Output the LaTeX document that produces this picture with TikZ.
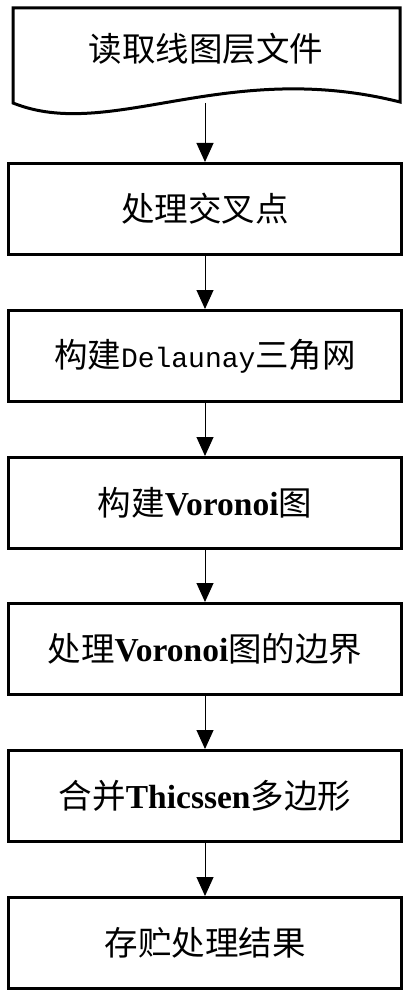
\documentclass[tikz,border=0pt]{standalone}
\usepackage{fontspec}
\newfontfamily\cjk{Noto Sans CJK SC}
\newfontfamily\monofam{Liberation Mono}
\newfontfamily\serifbold[BoldFont={Liberation Serif Bold}]{Liberation Serif}
\usetikzlibrary{arrows.meta}
\begin{document}
\begin{tikzpicture}[x=1pt,y=-1pt,
  procbox/.style={draw=black,line width=3pt,rectangle,minimum width=393pt,minimum height=91pt,inner sep=0pt,font=\cjk\fontsize{33.5}{36}\selectfont},
  lbl/.style={font=\cjk\fontsize{33.5}{36}\selectfont,inner sep=0pt},
  arr/.style={draw=black,line width=1pt,-{Triangle[width=17pt,length=19pt]}}]
\newcommand{\dlt}[1]{{\monofam\fontsize{28}{36}\selectfont #1}}
\newcommand{\tbf}[1]{{\serifbold\bfseries\fontsize{33.5}{36}\selectfont #1}}
\fill[white] (0,0) rectangle (412,1000);
\useasboundingbox (0,0) rectangle (412,1000);
% document shape
\draw[line width=3pt,line join=miter] (13,8) -- (400,8) -- (400,102)
  .. controls (225,58) and (110,142) .. (13,103) -- cycle;
\node[lbl] (doc) at (206,49) {读取线图层文件};
\coordinate (docb) at (205,103);
\node[procbox] (b1) at (205,209) {处理交叉点};
\node[procbox] (b2) at (205,356) {构建\dlt{Delaunay}三角网};
\node[procbox] (b3) at (205,503) {构建\tbf{Voronoi}图};
\node[procbox] (b4) at (205,649) {处理\tbf{Voronoi}图的边界};
\node[procbox] (b5) at (205,796) {合并\tbf{Thicssen}多边形};
\node[procbox] (b6) at (205,943) {存贮处理结果};
\draw[arr] (docb) -- (b1.north);
\draw[arr] (b1.south) -- (b2.north);
\draw[arr] (b2.south) -- (b3.north);
\draw[arr] (b3.south) -- (b4.north);
\draw[arr] (b4.south) -- (b5.north);
\draw[arr] (b5.south) -- (b6.north);
\end{tikzpicture}
\end{document}
